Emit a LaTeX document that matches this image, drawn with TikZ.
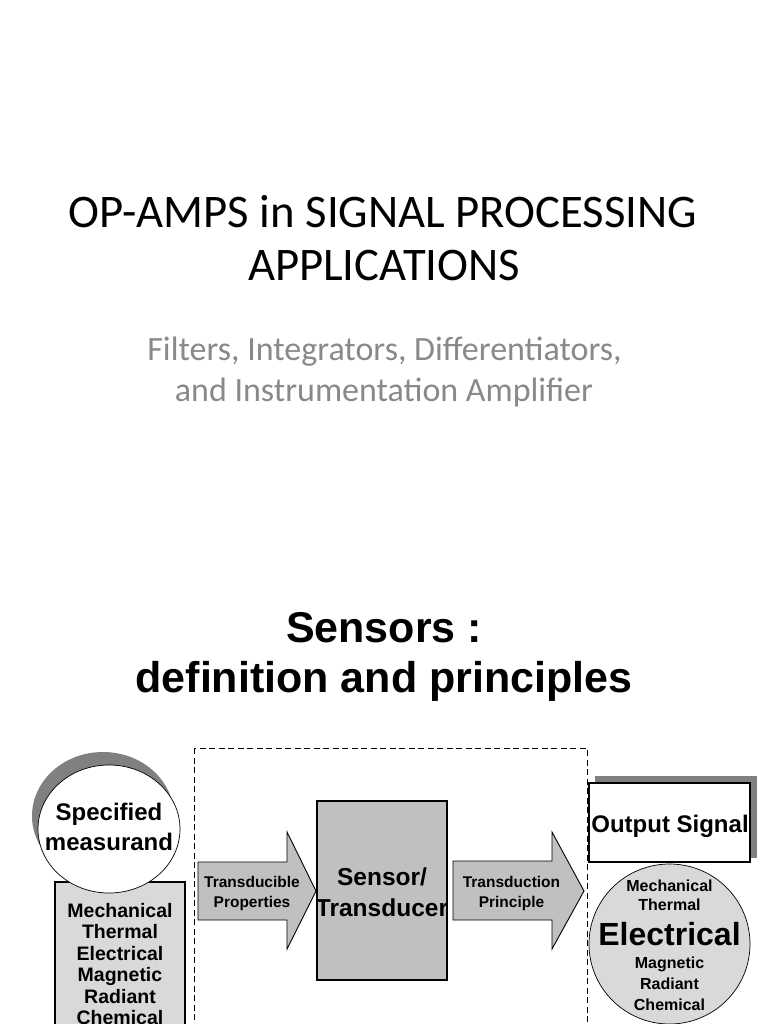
\documentclass[tikz,border=0pt]{standalone}
\usepackage{fontspec}
\setmainfont{Liberation Sans}
\newfontfamily\calib{Carlito}
\newcommand\fsz[1]{\fontsize{#1}{#1}\selectfont}
\definecolor{subgray}{RGB}{137,137,137}
\definecolor{lightfill}{RGB}{217,217,217}
\definecolor{midfill}{RGB}{192,192,192}
\definecolor{shadowgray}{RGB}{128,128,128}
\begin{document}
\begin{tikzpicture}[x=1pt,y=-1pt,
  txt/.style={inner sep=0pt, anchor=base},
  titletxt/.style={txt, font=\calib\fsz{46.7}},
  subtxt/.style={txt, font=\calib\fsz{34}, text=subgray},
  headtxt/.style={txt, font=\bfseries\fsz{43}},
  blockline/.style={draw=black, line width=1.1pt},
  arrowshape/.style={draw=black, line width=0.9pt, fill=midfill},
  dashbox/.style={draw=black, line width=0.8pt, dash pattern=on 6pt off 3.5pt}]
\useasboundingbox (0,0) rectangle (768,1024);
\fill[white] (0,0) rectangle (768,1024);
\clip (0,0) rectangle (768,1024);

% Title slide
\node[titletxt] (t1) at (383,227) {OP-AMPS in SIGNAL PROCESSING};
\node[titletxt] (t2) at (384,280) {APPLICATIONS};
\node[subtxt] (s1) at (384.5,360) {Filters, Integrators, Differentiators,};
\node[subtxt] (s2) at (384,401) {and Instrumentation Amplifier};

% Heading
\node[headtxt] (h1) at (384,642) {Sensors :};
\node[headtxt] (h2) at (384,692) {definition and principles};

% Dashed frame
\draw[dashbox] (194,748) rectangle (587,1040);

% Left gray list box
\draw[blockline, fill=lightfill] (55,882) rectangle (185,1040);
\node[txt, font=\bfseries\fsz{19.5}] (l1) at (120,917) {Mechanical};
\node[txt, font=\bfseries\fsz{19.5}] (l2) at (120,938.5) {Thermal};
\node[txt, font=\bfseries\fsz{19.5}] (l3) at (120,960) {Electrical};
\node[txt, font=\bfseries\fsz{19.5}] (l4) at (120,981.5) {Magnetic};
\node[txt, font=\bfseries\fsz{19.5}] (l5) at (120,1003) {Radiant};
\node[txt, font=\bfseries\fsz{19.5}] (l6) at (120,1024.5) {Chemical};

% Specified measurand circle with shadow
\fill[shadowgray] (103,816) ellipse [x radius=71, y radius=64];
\draw[black, line width=0.7pt, fill=white] (109,829) ellipse [x radius=71, y radius=64];
\node[txt, font=\bfseries\fsz{24}] (m1) at (109,820) {Specified};
\node[txt, font=\bfseries\fsz{24}] (m2) at (109,850) {measurand};

% Arrow 1
\draw[arrowshape] (198,862) -- (287,862) -- (287,832) -- (316,891) -- (287,949) -- (287,920) -- (198,920) -- cycle;
\node[txt, font=\bfseries\fsz{15.5}] (a1) at (252,887) {Transducible};
\node[txt, font=\bfseries\fsz{15.5}] (a2) at (252,907) {Properties};

% Sensor box
\draw[blockline, fill=midfill] (317,801) rectangle (447,980);
\node[txt, font=\bfseries\fsz{24.5}] (sb1) at (382,885) {Sensor/};
\node[txt, font=\bfseries\fsz{24.5}] (sb2) at (382,916) {Transducer};

% Arrow 2
\draw[arrowshape] (453,861) -- (552,861) -- (552,832) -- (584,891) -- (552,949) -- (552,920) -- (453,920) -- cycle;
\node[txt, font=\bfseries\fsz{15.5}] (b1) at (511.5,887) {Transduction};
\node[txt, font=\bfseries\fsz{15.5}] (b2) at (511.5,907) {Principle};

% Output signal box with shadow
\fill[shadowgray] (595,776) rectangle (757,858);
\draw[blockline, fill=white] (589,783) rectangle (750,862);
\node[txt, font=\bfseries\fsz{24}] (o1) at (670,832) {Output Signal};

% Output ellipse
\draw[black, line width=0.7pt, fill=lightfill] (669.5,944) ellipse [x radius=80.5, y radius=80];
\node[txt, font=\bfseries\fsz{16}] (e1) at (669.5,891) {Mechanical};
\node[txt, font=\bfseries\fsz{16}] (e2) at (669.5,910) {Thermal};
\node[txt, font=\bfseries\fsz{32}] (e3) at (669.5,945) {Electrical};
\node[txt, font=\bfseries\fsz{16}] (e4) at (669.5,968) {Magnetic};
\node[txt, font=\bfseries\fsz{16}] (e5) at (669.5,989) {Radiant};
\node[txt, font=\bfseries\fsz{16}] (e6) at (669.5,1010) {Chemical};
\end{tikzpicture}
\end{document}
